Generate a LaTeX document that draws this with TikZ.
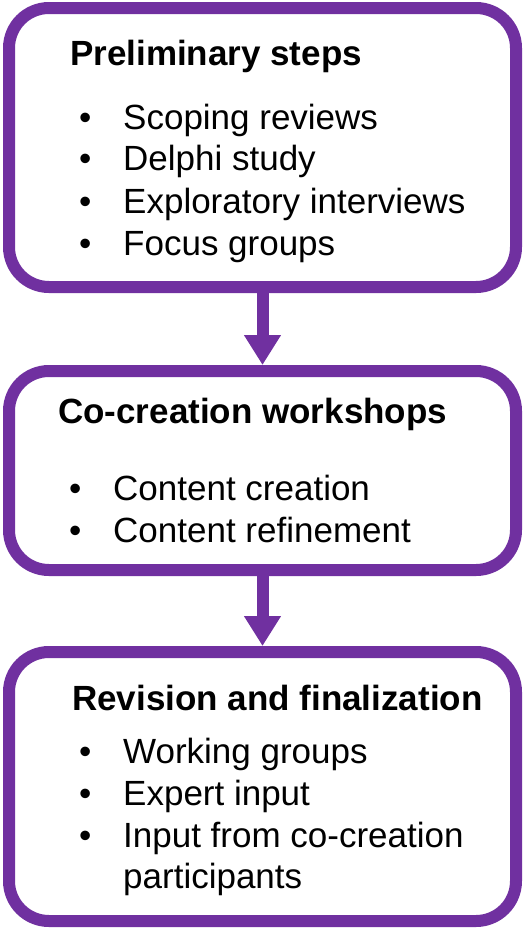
\documentclass[tikz,border=0pt]{standalone}
\usepackage{fontspec}
\setmainfont{Liberation Sans}
\usetikzlibrary{arrows.meta}
\definecolor{myPurple}{HTML}{7030A0}
\tikzset{
  stagebox/.style={draw=myPurple, line width=12pt, rounded corners=40pt, fill=white,
    minimum width=507pt, inner sep=0pt},
  flowarrow/.style={draw=myPurple, line width=12pt,
    -{Triangle[width=35pt,length=30pt,fill=myPurple]}},
  title/.style={anchor=base west, inner sep=0pt, font=\fontsize{35}{40}\selectfont\bfseries},
  item/.style={anchor=base west, inner sep=0pt, font=\fontsize{35}{40}\selectfont},
}
\begin{document}
\begin{tikzpicture}[x=1pt,y=-1pt]
\useasboundingbox (0,0) rectangle (530,930);
\node[stagebox, minimum height=279pt] (b1) at (262.5,147.5) {};
\node[stagebox, minimum height=199pt] (b2) at (262.5,470.5) {};
\node[stagebox, minimum height=269pt] (b3) at (262.5,786.5) {};
\draw[flowarrow] (b1.south) -- (b2.north);
\draw[flowarrow] (b2.south) -- (b3.north);
% box 1
\node[title] (t1) at (70,65) {Preliminary steps};
\node[item] (d11) at (79,129) {•};
\node[item] (i11) at (123,129) {Scoping reviews};
\node[item] (d12) at (79,170) {•};
\node[item] (i12) at (123,170) {Delphi study};
\node[item] (d13) at (79,213) {•};
\node[item] (i13) at (123,213) {Exploratory interviews};
\node[item] (d14) at (79,255) {•};
\node[item] (i14) at (123,255) {Focus groups};
% box 2
\node[title] (t2) at (58,423) {Co-creation workshops};
\node[item] (d21) at (69,500) {•};
\node[item] (i21) at (113,500) {Content creation};
\node[item] (d22) at (69,542) {•};
\node[item] (i22) at (113,542) {Content refinement};
% box 3
\node[title] (t3) at (72,710) {Revision and finalization};
\node[item] (d31) at (79,763) {•};
\node[item] (i31) at (123,763) {Working groups};
\node[item] (d32) at (79,805) {•};
\node[item] (i32) at (123,805) {Expert input};
\node[item] (d33) at (79,847) {•};
\node[item] (i33) at (123,847) {Input from co-creation};
\node[item] (i34) at (123,888) {participants};
\end{tikzpicture}
\end{document}
